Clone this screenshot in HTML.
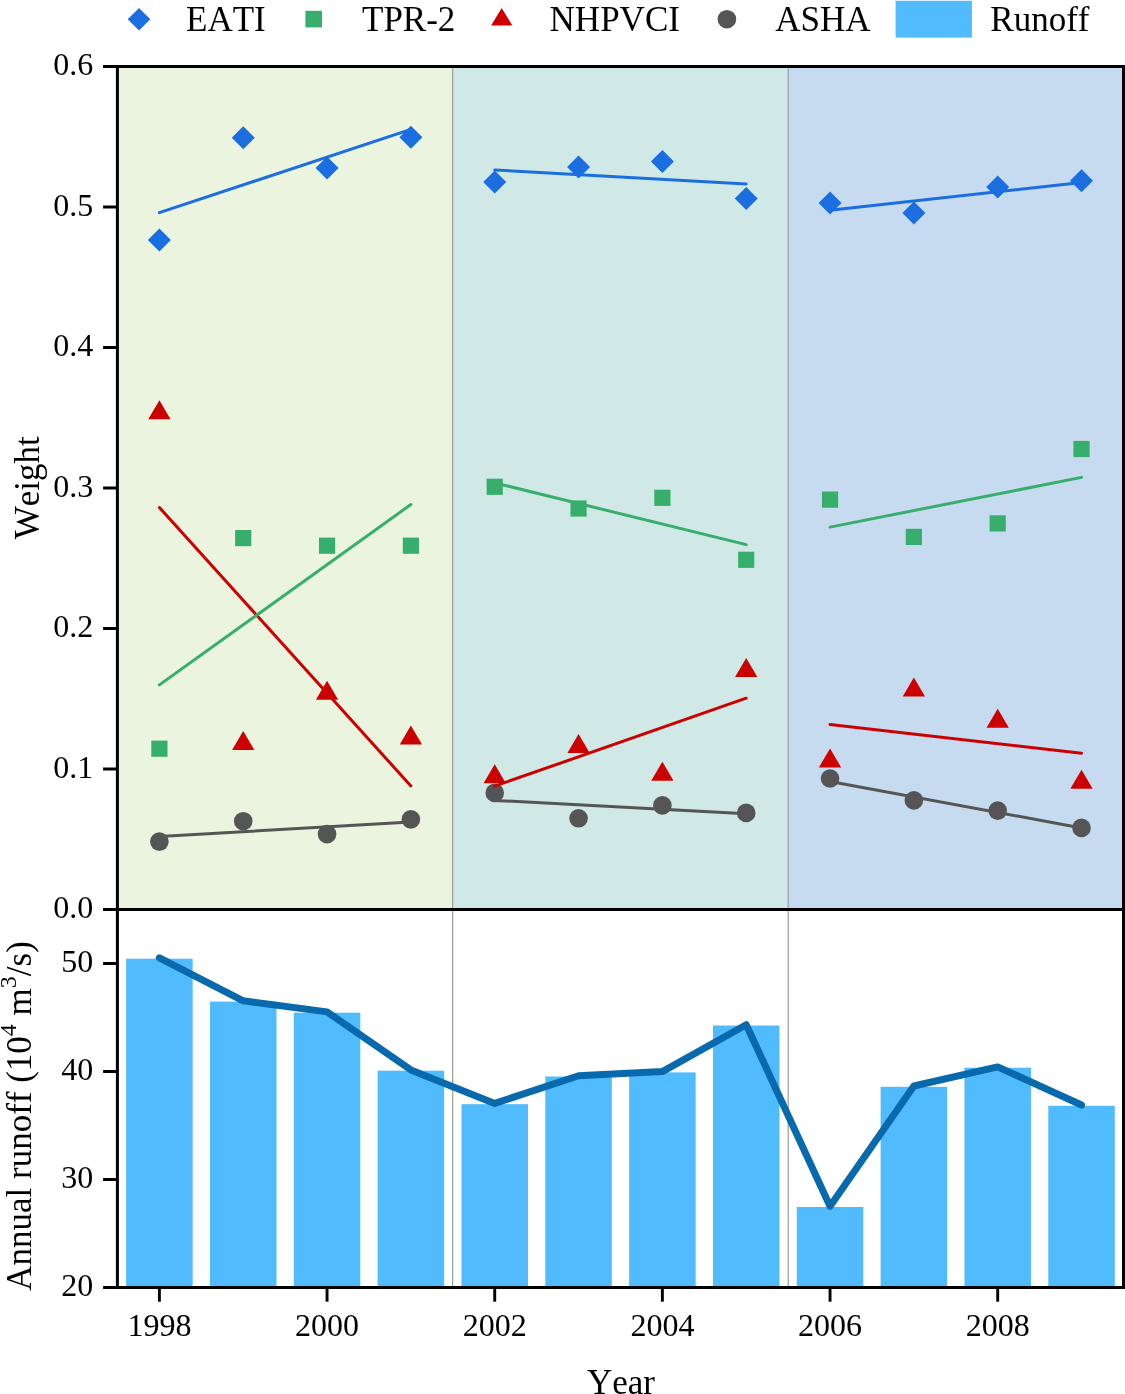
<!DOCTYPE html><html><head><meta charset="utf-8"><title>Weight and annual runoff</title><style>
html,body{margin:0;padding:0;background:#fff;}body{width:1125px;height:1394px;overflow:hidden;}
svg{display:block;} text{font-family:'Liberation Serif', 'Times New Roman', serif;fill:#000;font-kerning:none;font-variant-ligatures:none;}
</style></head><body>
<svg width="1125" height="1394" viewBox="0 0 1125 1394">
<rect x="0" y="0" width="1125" height="1394" fill="#fff"/>
<rect x="117.4" y="66.5" width="335.22" height="843.0" fill="#eaf4de"/>
<rect x="452.62" y="66.5" width="335.63" height="843.0" fill="#d0e9e6"/>
<rect x="788.25" y="66.5" width="335.25" height="843.0" fill="#c6dbef"/>
<rect x="126.15" y="958.70" width="66.5" height="328.80" fill="#50bbfd"/>
<rect x="209.98" y="1001.60" width="66.5" height="285.90" fill="#50bbfd"/>
<rect x="293.81" y="1012.70" width="66.5" height="274.80" fill="#50bbfd"/>
<rect x="377.64" y="1070.70" width="66.5" height="216.80" fill="#50bbfd"/>
<rect x="461.47" y="1104.20" width="66.5" height="183.30" fill="#50bbfd"/>
<rect x="545.30" y="1076.50" width="66.5" height="211.00" fill="#50bbfd"/>
<rect x="629.13" y="1072.40" width="66.5" height="215.10" fill="#50bbfd"/>
<rect x="712.96" y="1025.50" width="66.5" height="262.00" fill="#50bbfd"/>
<rect x="796.79" y="1207.00" width="66.5" height="80.50" fill="#50bbfd"/>
<rect x="880.62" y="1086.80" width="66.5" height="200.70" fill="#50bbfd"/>
<rect x="964.45" y="1067.70" width="66.5" height="219.80" fill="#50bbfd"/>
<rect x="1048.28" y="1105.80" width="66.5" height="181.70" fill="#50bbfd"/>
<line x1="452.62" y1="66.5" x2="452.62" y2="1287.5" stroke="#9e9e9e" stroke-width="1.25"/>
<line x1="788.25" y1="66.5" x2="788.25" y2="1287.5" stroke="#9e9e9e" stroke-width="1.25"/>
<polyline points="159.40,957.90 243.23,1000.80 327.06,1011.90 410.89,1069.90 494.72,1103.40 578.55,1075.70 662.38,1071.60 746.21,1024.70 830.04,1206.20 913.87,1086.00 997.70,1066.90 1081.53,1105.00" fill="none" stroke="#0869ad" stroke-width="7" stroke-linejoin="round" stroke-linecap="round"/>
<circle cx="159.40" cy="841.60" r="9.3" fill="#555555"/>
<circle cx="243.23" cy="821.20" r="9.3" fill="#555555"/>
<circle cx="327.06" cy="834.10" r="9.3" fill="#555555"/>
<circle cx="410.89" cy="819.40" r="9.3" fill="#555555"/>
<circle cx="494.72" cy="792.90" r="9.3" fill="#555555"/>
<circle cx="578.55" cy="818.30" r="9.3" fill="#555555"/>
<circle cx="662.38" cy="805.40" r="9.3" fill="#555555"/>
<circle cx="746.21" cy="812.90" r="9.3" fill="#555555"/>
<circle cx="830.04" cy="778.50" r="9.3" fill="#555555"/>
<circle cx="913.87" cy="800.40" r="9.3" fill="#555555"/>
<circle cx="997.70" cy="810.60" r="9.3" fill="#555555"/>
<circle cx="1081.53" cy="827.90" r="9.3" fill="#555555"/>
<line x1="159.40" y1="836.6" x2="410.89" y2="821.9" stroke="#555555" stroke-width="3" stroke-linecap="round"/>
<line x1="494.72" y1="800.4" x2="746.21" y2="813.8" stroke="#555555" stroke-width="3" stroke-linecap="round"/>
<line x1="830.04" y1="781.6" x2="1081.53" y2="827.9" stroke="#555555" stroke-width="3" stroke-linecap="round"/>
<path d="M159.40 400.35L170.55 419.35L148.25 419.35Z" fill="#cc0000"/>
<path d="M243.23 731.00L254.38 750.00L232.08 750.00Z" fill="#cc0000"/>
<path d="M327.06 680.80L338.21 699.80L315.91 699.80Z" fill="#cc0000"/>
<path d="M410.89 725.60L422.04 744.60L399.74 744.60Z" fill="#cc0000"/>
<path d="M494.72 764.20L505.87 783.20L483.57 783.20Z" fill="#cc0000"/>
<path d="M578.55 733.90L589.70 752.90L567.40 752.90Z" fill="#cc0000"/>
<path d="M662.38 761.70L673.53 780.70L651.23 780.70Z" fill="#cc0000"/>
<path d="M746.21 657.90L757.36 676.90L735.06 676.90Z" fill="#cc0000"/>
<path d="M830.04 748.40L841.19 767.40L818.89 767.40Z" fill="#cc0000"/>
<path d="M913.87 677.60L925.02 696.60L902.72 696.60Z" fill="#cc0000"/>
<path d="M997.70 708.80L1008.85 727.80L986.55 727.80Z" fill="#cc0000"/>
<path d="M1081.53 769.80L1092.68 788.80L1070.38 788.80Z" fill="#cc0000"/>
<line x1="159.40" y1="507.5" x2="410.89" y2="786.0" stroke="#cc0000" stroke-width="3" stroke-linecap="round"/>
<line x1="494.72" y1="786.1" x2="746.21" y2="698.2" stroke="#cc0000" stroke-width="3" stroke-linecap="round"/>
<line x1="830.04" y1="724.5" x2="1081.53" y2="753.2" stroke="#cc0000" stroke-width="3" stroke-linecap="round"/>
<rect x="151.30" y="740.60" width="16.2" height="16.2" fill="#37ae6b"/>
<rect x="235.13" y="530.00" width="16.2" height="16.2" fill="#37ae6b"/>
<rect x="318.96" y="537.60" width="16.2" height="16.2" fill="#37ae6b"/>
<rect x="402.79" y="537.60" width="16.2" height="16.2" fill="#37ae6b"/>
<rect x="486.62" y="478.70" width="16.2" height="16.2" fill="#37ae6b"/>
<rect x="570.45" y="500.40" width="16.2" height="16.2" fill="#37ae6b"/>
<rect x="654.28" y="489.70" width="16.2" height="16.2" fill="#37ae6b"/>
<rect x="738.11" y="551.70" width="16.2" height="16.2" fill="#37ae6b"/>
<rect x="821.94" y="491.50" width="16.2" height="16.2" fill="#37ae6b"/>
<rect x="905.77" y="528.80" width="16.2" height="16.2" fill="#37ae6b"/>
<rect x="989.60" y="515.30" width="16.2" height="16.2" fill="#37ae6b"/>
<rect x="1073.43" y="440.90" width="16.2" height="16.2" fill="#37ae6b"/>
<line x1="159.40" y1="684.9" x2="410.89" y2="504.5" stroke="#37ae6b" stroke-width="3" stroke-linecap="round"/>
<line x1="494.72" y1="482.9" x2="746.21" y2="544.6" stroke="#37ae6b" stroke-width="3" stroke-linecap="round"/>
<line x1="830.04" y1="527.1" x2="1081.53" y2="477.4" stroke="#37ae6b" stroke-width="3" stroke-linecap="round"/>
<path d="M159.40 228.40L170.90 239.90L159.40 251.40L147.90 239.90Z" fill="#1b6ee0"/>
<path d="M243.23 126.30L254.73 137.80L243.23 149.30L231.73 137.80Z" fill="#1b6ee0"/>
<path d="M327.06 156.50L338.56 168.00L327.06 179.50L315.56 168.00Z" fill="#1b6ee0"/>
<path d="M410.89 125.70L422.39 137.20L410.89 148.70L399.39 137.20Z" fill="#1b6ee0"/>
<path d="M494.72 170.40L506.22 181.90L494.72 193.40L483.22 181.90Z" fill="#1b6ee0"/>
<path d="M578.55 155.50L590.05 167.00L578.55 178.50L567.05 167.00Z" fill="#1b6ee0"/>
<path d="M662.38 149.90L673.88 161.40L662.38 172.90L650.88 161.40Z" fill="#1b6ee0"/>
<path d="M746.21 187.10L757.71 198.60L746.21 210.10L734.71 198.60Z" fill="#1b6ee0"/>
<path d="M830.04 191.60L841.54 203.10L830.04 214.60L818.54 203.10Z" fill="#1b6ee0"/>
<path d="M913.87 201.40L925.37 212.90L913.87 224.40L902.37 212.90Z" fill="#1b6ee0"/>
<path d="M997.70 175.40L1009.20 186.90L997.70 198.40L986.20 186.90Z" fill="#1b6ee0"/>
<path d="M1081.53 169.20L1093.03 180.70L1081.53 192.20L1070.03 180.70Z" fill="#1b6ee0"/>
<line x1="159.40" y1="212.7" x2="410.89" y2="129.3" stroke="#1b6ee0" stroke-width="3" stroke-linecap="round"/>
<line x1="494.72" y1="170.0" x2="746.21" y2="184.0" stroke="#1b6ee0" stroke-width="3" stroke-linecap="round"/>
<line x1="830.04" y1="210.3" x2="1081.53" y2="182.5" stroke="#1b6ee0" stroke-width="3" stroke-linecap="round"/>
<g stroke="#000" stroke-width="3" fill="none" stroke-linecap="butt">
<line x1="117.4" y1="65.0" x2="117.4" y2="1289.0"/>
<line x1="1123.5" y1="65.0" x2="1123.5" y2="1289.0"/>
<line x1="103.1" y1="66.5" x2="1125.0" y2="66.5"/>
<line x1="103.1" y1="909.5" x2="1125.0" y2="909.5"/>
<line x1="103.1" y1="1287.5" x2="1125.0" y2="1287.5"/>
<line x1="103.1" y1="909.50" x2="117.4" y2="909.50"/>
<line x1="103.1" y1="769.00" x2="117.4" y2="769.00"/>
<line x1="103.1" y1="628.50" x2="117.4" y2="628.50"/>
<line x1="103.1" y1="488.00" x2="117.4" y2="488.00"/>
<line x1="103.1" y1="347.50" x2="117.4" y2="347.50"/>
<line x1="103.1" y1="207.00" x2="117.4" y2="207.00"/>
<line x1="103.1" y1="66.50" x2="117.4" y2="66.50"/>
<line x1="103.1" y1="1179.50" x2="117.4" y2="1179.50"/>
<line x1="103.1" y1="1071.50" x2="117.4" y2="1071.50"/>
<line x1="103.1" y1="963.50" x2="117.4" y2="963.50"/>
<line x1="159.40" y1="1287.5" x2="159.40" y2="1301.7" stroke-width="2.9"/>
<line x1="327.06" y1="1287.5" x2="327.06" y2="1301.7" stroke-width="2.9"/>
<line x1="494.72" y1="1287.5" x2="494.72" y2="1301.7" stroke-width="2.9"/>
<line x1="662.38" y1="1287.5" x2="662.38" y2="1301.7" stroke-width="2.9"/>
<line x1="830.04" y1="1287.5" x2="830.04" y2="1301.7" stroke-width="2.9"/>
<line x1="997.70" y1="1287.5" x2="997.70" y2="1301.7" stroke-width="2.9"/>
</g>
<text x="93.3" y="918.20" font-size="32" text-anchor="end">0.0</text>
<text x="93.3" y="777.70" font-size="32" text-anchor="end">0.1</text>
<text x="93.3" y="637.20" font-size="32" text-anchor="end">0.2</text>
<text x="93.3" y="496.70" font-size="32" text-anchor="end">0.3</text>
<text x="93.3" y="356.20" font-size="32" text-anchor="end">0.4</text>
<text x="93.3" y="215.70" font-size="32" text-anchor="end">0.5</text>
<text x="93.3" y="75.20" font-size="32" text-anchor="end">0.6</text>
<text x="93.3" y="1296.20" font-size="32" text-anchor="end">20</text>
<text x="93.3" y="1188.20" font-size="32" text-anchor="end">30</text>
<text x="93.3" y="1080.20" font-size="32" text-anchor="end">40</text>
<text x="93.3" y="972.20" font-size="32" text-anchor="end">50</text>
<text x="159.40" y="1336" font-size="32" text-anchor="middle">1998</text>
<text x="327.06" y="1336" font-size="32" text-anchor="middle">2000</text>
<text x="494.72" y="1336" font-size="32" text-anchor="middle">2002</text>
<text x="662.38" y="1336" font-size="32" text-anchor="middle">2004</text>
<text x="830.04" y="1336" font-size="32" text-anchor="middle">2006</text>
<text x="997.70" y="1336" font-size="32" text-anchor="middle">2008</text>
<text x="621" y="1394" font-size="35" text-anchor="middle">Year</text>
<text transform="translate(39,487.7) rotate(-90)" font-size="35" text-anchor="middle">Weight</text>
<text transform="translate(30.6,1116.0) rotate(-90)" font-size="35" text-anchor="middle">Annual runoff (10<tspan font-size="24" dy="-14.5">4</tspan><tspan dy="14.5"> m</tspan><tspan font-size="24" dy="-14.5">3</tspan><tspan dy="14.5">/s)</tspan></text>
<path d="M139.00 7.90L150.30 19.20L139.00 30.50L127.70 19.20Z" fill="#1b6ee0"/>
<text x="186" y="31" font-size="35">EATI</text>
<rect x="305.40" y="10.80" width="16.6" height="16.6" fill="#37ae6b"/>
<text x="362" y="31" font-size="35">TPR-2</text>
<path d="M501.70 8.00L512.30 25.60L491.10 25.60Z" fill="#cc0000"/>
<text x="549.6" y="31" font-size="35">NHPVCI</text>
<circle cx="726.90" cy="19.20" r="9.3" fill="#555555"/>
<text x="775.2" y="31" font-size="35">ASHA</text>
<rect x="895.6" y="0.8" width="76.3" height="36.8" fill="#50bbfd"/>
<text x="990.3" y="31" font-size="35">Runoff</text>
</svg></body></html>
